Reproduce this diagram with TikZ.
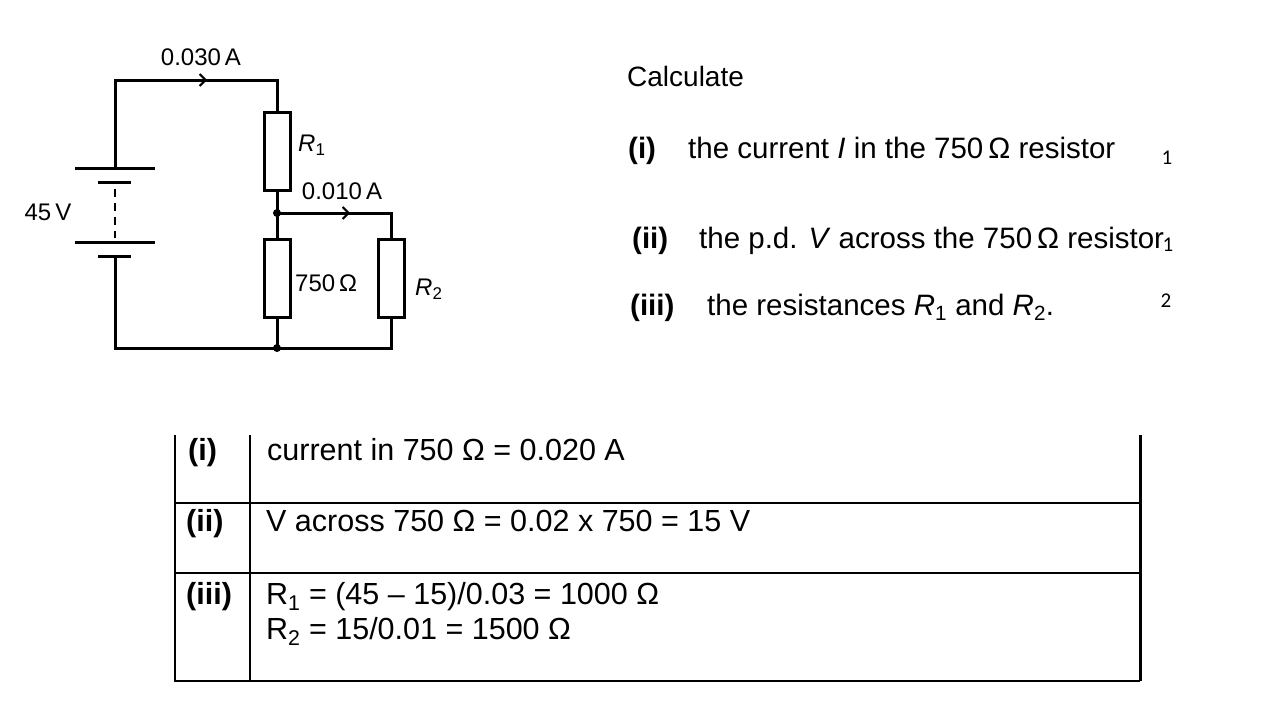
\documentclass[tikz,border=0pt]{standalone}
\usepackage{fontspec}
\setmainfont{Liberation Sans}
\newfontfamily\calib{Carlito}
\usetikzlibrary{arrows.meta}
\begin{document}
\begin{tikzpicture}[x=1pt,y=-1pt,
  wire/.style={line width=3pt},
  res/.style={draw,line width=3pt,minimum width=26pt,minimum height=78pt,inner sep=0pt},
  plate/.style={line width=3pt},
  lbl/.style={font=\fontsize{24}{24}\selectfont,inner sep=0pt},
  qtxt/.style={font=\fontsize{29.5}{29.5}\selectfont,anchor=base west,inner sep=0pt},
  marktxt/.style={font=\calib\fontsize{21}{21}\selectfont,anchor=base,inner sep=0pt},
  ttxt/.style={font=\fontsize{30.5}{30.5}\selectfont,anchor=base west,inner sep=0pt},
  tline/.style={line width=1.5pt},
  chev/.style={-{Straight Barb[length=6pt,width=12pt,line width=2pt]},line width=3pt}]
\useasboundingbox (0,0) rectangle (1280,720);
\fill[white] (0,0) rectangle (1280,720);
% circuit
\coordinate (TL) at (115,80);
\coordinate (TR) at (277,80);
\coordinate (B1) at (115,168);
\coordinate (B4) at (115,256);
\coordinate (BL) at (115,348);
\coordinate (J) at (277,213);
\coordinate (JR) at (391,213);
\coordinate (BM) at (277,348);
\coordinate (BR) at (391,348);
\node[res] (R1) at (277,151) {};
\node[res] (R750) at (277,278.5) {};
\node[res] (R2) at (391,278.5) {};
\draw[wire] (B1) -- (TL) -- (TR) -- (R1.north);
\draw[wire] (R1.south) -- (J) -- (R750.north);
\draw[wire] (J) -- (JR) -- (R2.north);
\draw[wire] (R750.south) -- (BM);
\draw[wire] (R2.south) -- (BR) -- (BL) -- (B4);
\draw[chev] (190,80) -- (207,80);
\draw[chev] (333,213) -- (350,213);
\fill (J) circle (4pt);
\fill (BM) circle (4pt);
\draw[plate] (75,168) -- (155,168);
\draw[plate] (98,182.5) -- (131,182.5);
\draw[plate] (75,242) -- (155,242);
\draw[plate] (98,256) -- (131,256);
\draw[line width=2.6pt,dash pattern=on 8pt off 6pt] (115,189) -- (115,238);
\node[lbl] (l1) at (201,57) {0.030\,A};
\node[lbl] (l2) at (342,191) {0.010\,A};
\node[lbl] (l3) at (48,212) {45\,V};
\node[lbl,anchor=west] (l4) at (295,283) {750\,Ω};
\node[lbl,anchor=west] (l5) at (298,145) {\textit{R}\textsubscript{\fontsize{17}{17}\selectfont 1}};
\node[lbl,anchor=west] (l6) at (415,289) {\textit{R}\textsubscript{\fontsize{17}{17}\selectfont 2}};
% questions
\node[qtxt,font=\fontsize{28}{28}\selectfont] (c) at (627,86) {Calculate};
\node[qtxt] (q1) at (628,158) {\textbf{(i)}};
\node[qtxt] (q1t) at (688,158) {the current \textit{I} in the 750\,Ω resistor};
\node[qtxt] (q2) at (632,248) {\textbf{(ii)}};
\node[qtxt] (q2t) at (699,248) {the p.d. \textit{V} across the 750\,Ω resistor};
\node[qtxt] (q3) at (630,315) {\textbf{(iii)}};
\node[qtxt] (q3t) at (707,315) {the resistances \textit{R}\textsubscript{1} and \textit{R}\textsubscript{2}.};
\node[marktxt] (m1) at (1167,164) {1};
\node[marktxt] (m2) at (1168,251) {1};
\node[marktxt] (m3) at (1166,307) {2};
% table
\draw[tline] (175,435) -- (175,681) -- (1140,681);
\draw[tline] (250,435) -- (250,681);
\draw[tline] (175,503) -- (1140,503);
\draw[tline] (175,573) -- (1140,573);
\draw[line width=3pt] (1140,435) -- (1140,681);
\node[ttxt] (t1) at (188,460) {\textbf{(i)}};
\node[ttxt] (t1t) at (267,460) {current in 750 Ω = 0.020 A};
\node[ttxt] (t2) at (186,531) {\textbf{(ii)}};
\node[ttxt] (t2t) at (266,531) {V across 750 Ω = 0.02 x 750 = 15 V};
\node[ttxt] (t3) at (186,604) {\textbf{(iii)}};
\node[ttxt] (t3t) at (266,604) {R\textsubscript{1} = (45 – 15)/0.03 = 1000 Ω};
\node[ttxt] (t4t) at (266,639) {R\textsubscript{2} = 15/0.01 = 1500 Ω};
\end{tikzpicture}
\end{document}
